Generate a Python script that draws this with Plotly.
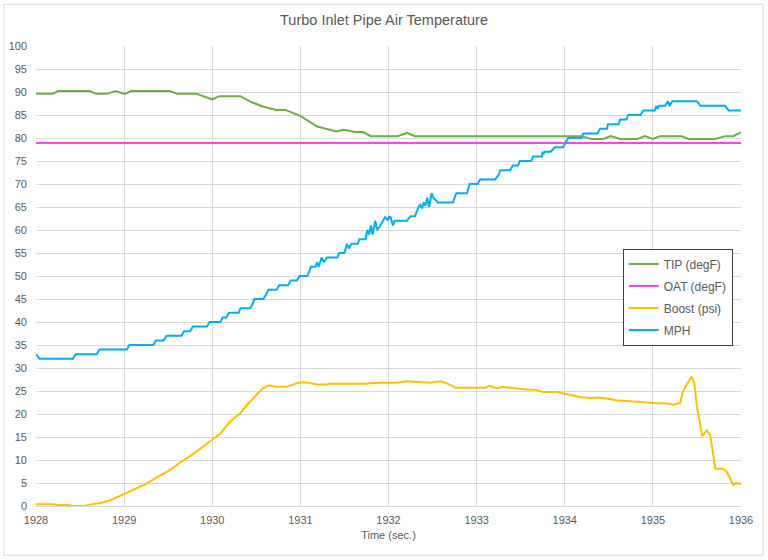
import plotly.graph_objects as go

# ---- data ----
tip_t = [1928.00, 1928.19, 1928.25, 1928.61, 1928.68, 1928.80, 1928.90, 1929.01, 1929.08, 1929.52,
         1929.60, 1929.82, 1930.00, 1930.08, 1930.32, 1930.43, 1930.58, 1930.73, 1930.83, 1931.00,
         1931.19, 1931.41, 1931.49, 1931.62, 1931.71, 1931.80, 1932.10, 1932.21, 1932.30, 1934.19,
         1934.30, 1934.44, 1934.52, 1934.63, 1934.82, 1934.91, 1935.00, 1935.08, 1935.33, 1935.40,
         1935.71, 1935.82, 1935.91, 1936.00]
tip_v = [89.6, 89.6, 90.2, 90.2, 89.6, 89.6, 90.2, 89.6, 90.2, 90.2,
         89.6, 89.6, 88.4, 89.1, 89.1, 87.9, 86.8, 86.1, 86.1, 84.8,
         82.5, 81.4, 81.8, 81.3, 81.3, 80.4, 80.4, 81.1, 80.4, 80.4,
         79.8, 79.8, 80.4, 79.8, 79.8, 80.4, 79.8, 80.4, 80.4, 79.8,
         79.8, 80.4, 80.4, 81.2]

oat_t = [1928.0, 1936.0]
oat_v = [78.9, 78.9]

boost_t = [1928.00, 1928.19, 1928.25, 1928.36, 1928.42, 1928.55, 1928.61, 1928.73, 1928.84, 1928.95,
           1929.03, 1929.14, 1929.26, 1929.37, 1929.52, 1929.63, 1929.79, 1929.90, 1930.00, 1930.09,
           1930.20, 1930.32, 1930.39, 1930.51, 1930.58, 1930.64, 1930.73, 1930.85, 1930.96, 1931.02,
           1931.09, 1931.19, 1931.30, 1931.34, 1931.72, 1931.90, 1932.10, 1932.20, 1932.36, 1932.47,
           1932.59, 1932.66, 1932.76, 1933.10, 1933.15, 1933.23, 1933.30, 1933.42, 1933.57, 1933.68,
           1933.75, 1933.91, 1934.02, 1934.17, 1934.29, 1934.40, 1934.59, 1934.78, 1935.00, 1935.16,
           1935.23, 1935.31, 1935.34, 1935.38, 1935.44, 1935.47, 1935.50, 1935.56, 1935.61, 1935.65,
           1935.71, 1935.80, 1935.84, 1935.91, 1935.95, 1936.00]
boost_v = [0.4, 0.4, 0.2, 0.2, 0.0, 0.0, 0.3, 0.65, 1.2, 2.2,
           2.8, 3.9, 4.9, 6.2, 7.8, 9.4, 11.4, 13.0, 14.5, 15.7,
           18.3, 20.2, 21.9, 24.4, 25.7, 26.2, 25.9, 25.9, 26.7, 26.9,
           26.8, 26.4, 26.4, 26.6, 26.6, 26.8, 26.8, 27.1, 27.0, 26.8,
           27.1, 26.7, 25.7, 25.7, 26.1, 25.6, 25.9, 25.6, 25.3, 25.2,
           24.8, 24.8, 24.3, 23.7, 23.5, 23.6, 23.0, 22.7, 22.4, 22.3,
           22.0, 22.4, 24.8, 26.3, 28.1, 26.7, 21.6, 15.2, 16.5, 15.4,
           8.1, 8.1, 7.4, 4.6, 5.0, 4.8]

mph_t = [1928.00, 1928.04, 1928.42, 1928.45, 1928.69, 1928.72, 1929.03, 1929.06, 1929.33, 1929.36,
         1929.45, 1929.48, 1929.65, 1929.68, 1929.75, 1929.78, 1929.94, 1929.97, 1930.09, 1930.12,
         1930.16, 1930.19, 1930.30, 1930.32, 1930.43, 1930.46, 1930.48, 1930.58, 1930.61, 1930.64,
         1930.73, 1930.76, 1930.86, 1930.89, 1930.96, 1930.99, 1931.08, 1931.12, 1931.17, 1931.19,
         1931.21, 1931.24, 1931.27, 1931.30, 1931.42, 1931.44, 1931.50, 1931.53, 1931.55, 1931.58,
         1931.65, 1931.67, 1931.74, 1931.76, 1931.78, 1931.80, 1931.82, 1931.85, 1931.87, 1931.90,
         1931.96, 1931.99, 1932.02, 1932.05, 1932.07, 1932.21, 1932.25, 1932.30, 1932.34, 1932.36,
         1932.38, 1932.40, 1932.42, 1932.44, 1932.46, 1932.49, 1932.51, 1932.56, 1932.73, 1932.77,
         1932.89, 1932.92, 1933.01, 1933.04, 1933.21, 1933.25, 1933.27, 1933.38, 1933.41, 1933.47,
         1933.49, 1933.62, 1933.64, 1933.74, 1933.75, 1933.76, 1933.77, 1933.84, 1933.89, 1933.98,
         1934.01, 1934.04, 1934.19, 1934.21, 1934.37, 1934.40, 1934.48, 1934.49, 1934.61, 1934.63,
         1934.70, 1934.72, 1934.86, 1934.89, 1935.02, 1935.04, 1935.05, 1935.07, 1935.14, 1935.17,
         1935.19, 1935.22, 1935.50, 1935.54, 1935.82, 1935.86, 1936.00]
mph_v = [33, 32, 32, 33, 33, 34, 34, 35, 35, 36,
         36, 37, 37, 38, 38, 39, 39, 40, 40, 41,
         41, 42, 42, 43, 43, 44, 45, 45, 46, 47,
         47, 48, 48, 49, 49, 50, 50, 52, 52, 53,
         52, 54, 53, 54, 54, 55, 55, 57, 56, 57,
         57, 58, 58, 60, 59, 61, 59, 62, 60, 60.7,
         62.8, 62.2, 63, 61, 62, 62, 63, 63, 65, 65.5,
         64.7, 66, 65.3, 67, 65, 68, 67, 66, 66, 68,
         68, 70, 70, 71, 71, 72, 73, 73, 74, 74,
         75, 75, 76, 76, 77, 76.5, 77, 77, 78, 78,
         79, 80, 80, 81, 81, 82, 82, 83, 83, 84,
         84, 85, 85, 86, 86, 87, 86.3, 87, 87, 88,
         87, 88, 88, 87, 87, 86, 86]

series_names = ["TIP (degF)", "OAT (degF)", "Boost (psi)", "MPH"]
series_colors = ["#70ad47", "#ff44e6", "#ffc000", "#00b0f0"]
series_t = [tip_t, oat_t, boost_t, mph_t]
series_v = [tip_v, oat_v, boost_v, mph_v]

FONT = "Liberation Sans Narrow, Liberation Sans, Arial"
GRAY = "#595959"
GRID = "#d9d9d9"

fig = go.Figure()
for name, color, t, v in zip(series_names, series_colors, series_t, series_v):
    fig.add_trace(go.Scatter(x=t, y=v, mode="lines", name=name, legendgroup=name,
                             line=dict(color=color, width=2)))

fig.update_layout(
    width=768, height=560,
    margin=dict(l=36, r=27, t=46, b=54),
    paper_bgcolor="white", plot_bgcolor="white",
    title=dict(text="Turbo Inlet Pipe Air Temperature", x=0.5, xref="container", xanchor="center",
               y=1 - 20 / 560, yanchor="middle",
               font=dict(family=FONT, size=14.5, color=GRAY)),
    font=dict(family=FONT, color=GRAY),
    legend=dict(x=(622.7 - 36) / 705, y=(505.7 - 248.3) / 460, xanchor="left", yanchor="top",
                bgcolor="white", bordercolor="#404040", borderwidth=1,
                font=dict(family=FONT, size=12, color=GRAY),
                tracegroupgap=3, itemwidth=30, traceorder="grouped"),
    showlegend=True,
)
fig.update_xaxes(range=[1928, 1936], dtick=1, tick0=1928, showgrid=True, gridcolor=GRID, gridwidth=1,
                 showline=True, linecolor=GRID, linewidth=1, zeroline=False, automargin=False,
                 tickfont=dict(family=FONT, size=11, color=GRAY), ticks="", ticklabelstandoff=4,
                 title=dict(text="Time (sec.)", font=dict(family=FONT, size=11, color=GRAY), standoff=6))
fig.update_yaxes(range=[0, 100], dtick=5, showgrid=True, gridcolor=GRID, gridwidth=1,
                 showline=False, zeroline=False, automargin=False,
                 tickfont=dict(family=FONT, size=11, color=GRAY), ticks="", ticklabelstandoff=8)

# chart area border
fig.add_shape(type="rect", xref="paper", yref="paper",
              x0=(4 - 36) / 705, x1=(763 - 36) / 705,
              y0=(505.7 - 555) / 460, y1=(505.7 - 4) / 460,
              line=dict(color=GRID, width=1), fillcolor="rgba(0,0,0,0)", layer="below")

fig.write_html("out.html")
